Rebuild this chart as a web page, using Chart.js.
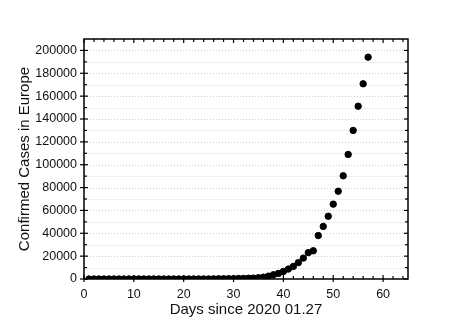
<!DOCTYPE html>
<html lang="en">
<head>
    <meta charset="UTF-8">
    <title>Confirmed Cases in Europe</title>
    <script src="https://cdn.jsdelivr.net/npm/chart.js"></script>
    <style>
        body { margin: 0; background: #fff; }
        #wrap { width: 474px; height: 335px; }
    </style>
</head>
<body>
    <div id="wrap"><canvas id="casesChart" width="474" height="335"></canvas></div>

    <script>
        // days since 2020-01-27 and confirmed cases
        const days = [
            1, 2, 3, 4, 5, 6, 7, 8, 9, 10,
            11, 12, 13, 14, 15, 16, 17, 18, 19, 20,
            21, 22, 23, 24, 25, 26, 27, 28, 29, 30,
            31, 32, 33, 34, 35, 36, 37, 38, 39, 40,
            41, 42, 43, 44, 45, 46, 47, 48, 49, 50,
            51, 52, 53, 54, 55, 56, 57
        ];
        const cases = [
            5, 8, 11, 14, 16, 22, 26, 28, 30, 31,
            35, 38, 39, 42, 44, 45, 45, 46, 46, 47,
            47, 47, 48, 52, 70, 120, 180, 230, 280, 330,
            420, 520, 650, 800, 1100, 1600, 2500, 3700, 4900, 6600,
            8700, 11000, 14300, 18300, 23100, 24700, 38000, 46000, 54900, 65500,
            76800, 90300, 109000, 130000, 151200, 170800, 194100
        ];
        const xTicks = [0, 10, 20, 30, 40, 50, 60];
        const xMinor = [2, 4, 6, 8, 12, 14, 16, 18, 22, 24, 26, 28, 32, 34, 36, 38, 42, 44, 46, 48, 52, 54, 56, 58, 62, 64];
        const yTicks = [0, 20000, 40000, 60000, 80000, 100000, 120000, 140000, 160000, 180000, 200000];
        const yMinor = [10000, 30000, 50000, 70000, 90000, 110000, 130000, 150000, 170000, 190000];

        const FONT = '"Liberation Sans", Arial, sans-serif';

        // frame, grid and Origin-style tick marks
        const framePlugin = {
            id: 'frame',
            beforeDatasetsDraw(chart) {
                const ctx = chart.ctx;
                const a = chart.chartArea;
                const ys = chart.scales.y;
                ctx.save();
                ctx.lineWidth = 1;
                ctx.strokeStyle = '#efefef';
                yMinor.forEach(v => {
                    const y = Math.round(ys.getPixelForValue(v)) + 0.5;
                    ctx.beginPath(); ctx.moveTo(a.left, y); ctx.lineTo(a.right, y); ctx.stroke();
                });
                ctx.strokeStyle = '#cfcfcf';
                ctx.setLineDash([1, 2]);
                yTicks.forEach(v => {
                    if (v === 0) return;
                    const y = Math.round(ys.getPixelForValue(v)) + 0.5;
                    ctx.beginPath(); ctx.moveTo(a.left, y); ctx.lineTo(a.right, y); ctx.stroke();
                });
                ctx.restore();
            },
            afterDatasetsDraw(chart) {
                const ctx = chart.ctx;
                const a = chart.chartArea;
                const xs = chart.scales.x, ys = chart.scales.y;
                ctx.save();
                ctx.strokeStyle = '#000';
                ctx.lineWidth = 1.5;
                ctx.strokeRect(a.left, a.top, a.right - a.left, a.bottom - a.top);
                ctx.lineWidth = 1.2;
                const seg = (x1, y1, x2, y2) => {
                    ctx.beginPath(); ctx.moveTo(x1, y1); ctx.lineTo(x2, y2); ctx.stroke();
                };
                xTicks.forEach(v => {
                    const x = xs.getPixelForValue(v);
                    seg(x, a.bottom + 3, x, a.bottom - 4);
                    seg(x, a.top, x, a.top + 4);
                });
                xMinor.forEach(v => {
                    const x = xs.getPixelForValue(v);
                    seg(x, a.bottom, x, a.bottom - 3);
                    seg(x, a.top, x, a.top + 3);
                });
                yTicks.forEach(v => {
                    const y = ys.getPixelForValue(v);
                    seg(a.left - 4, y, a.left + 4, y);
                    seg(a.right, y, a.right - 4, y);
                });
                yMinor.forEach(v => {
                    const y = ys.getPixelForValue(v);
                    seg(a.left, y, a.left + 3, y);
                    seg(a.right, y, a.right - 3, y);
                });
                ctx.restore();
            }
        };

        new Chart(document.getElementById('casesChart'), {
            type: 'scatter',
            data: {
                datasets: [{
                    data: days.map((d, i) => ({ x: d, y: cases[i] })),
                    backgroundColor: '#000',
                    borderColor: '#000',
                    pointRadius: 3.2,
                    pointHoverRadius: 3.2
                }]
            },
            options: {
                responsive: false,
                animation: false,
                layout: { padding: { left: 0, top: 39, right: 66, bottom: 0 } },
                plugins: { legend: { display: false }, tooltip: { enabled: false } },
                scales: {
                    x: {
                        type: 'linear',
                        min: 0,
                        max: 65,
                        afterBuildTicks: s => { s.ticks = xTicks.map(v => ({ value: v })); },
                        afterFit: s => { s.height = 56; },
                        grid: { display: false, drawTicks: false, tickLength: 0 },
                        border: { display: false },
                        ticks: { color: '#111', padding: 8, font: { family: FONT, size: 12.5 }, callback: v => String(v) },
                        title: {
                            display: true,
                            text: 'Days since 2020 01.27',
                            color: '#111',
                            font: { family: FONT, size: 15 },
                            padding: { top: 0, bottom: 16 }
                        }
                    },
                    y: {
                        min: 0,
                        max: 210000,
                        afterBuildTicks: s => { s.ticks = yTicks.map(v => ({ value: v })); },
                        afterFit: s => { s.width = 84; },
                        grid: { display: false, drawTicks: false, tickLength: 0 },
                        border: { display: false },
                        ticks: { color: '#111', padding: 7, font: { family: FONT, size: 12.5 }, callback: v => String(v) },
                        title: {
                            display: true,
                            text: 'Confirmed Cases in Europe',
                            color: '#111',
                            font: { family: FONT, size: 15 },
                            padding: { top: 16, bottom: 0 }
                        }
                    }
                }
            },
            plugins: [framePlugin]
        });
    </script>
</body>
</html>
